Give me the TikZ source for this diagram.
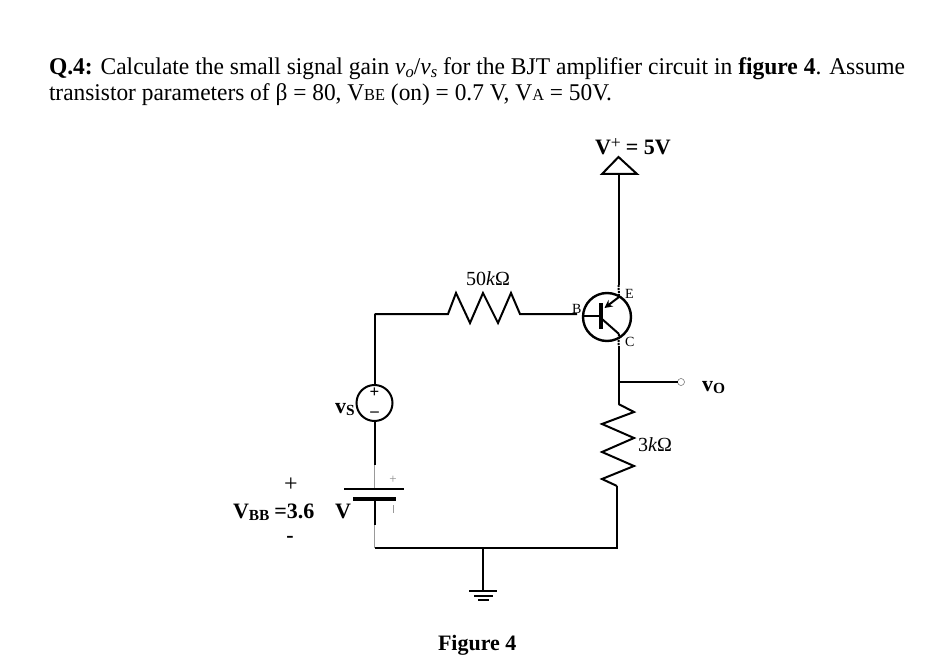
\documentclass[tikz,border=0pt]{standalone}
\usepackage{fontspec}
\usepackage{graphicx}
\setmainfont{Liberation Serif}
\usetikzlibrary{arrows.meta}
\newcommand{\lowtxt}[2][-0.12em]{\raisebox{#1}{\scalebox{0.7}{#2}}}
\newcommand{\fitw}[2]{\resizebox{#1}{\height}{#2}}
\tikzset{
  x=1pt,y=-1pt,
  wire/.style={line width=2pt,black,line cap=butt,line join=miter},
  thinwire/.style={line width=0.8pt,black!40},
  heavy/.style={line width=3.6pt,black},
  prose/.style={anchor=base west,inner sep=0pt,outer sep=0pt,font=\fontsize{24}{26}\selectfont},
  lab/.style={anchor=base west,inner sep=0pt,outer sep=0pt,font=\fontsize{20}{22}\selectfont},
  blab/.style={anchor=base west,inner sep=0pt,outer sep=0pt,font=\fontsize{22}{24}\selectfont\bfseries},
  tiny/.style={anchor=base west,inner sep=0pt,outer sep=0pt,font=\fontsize{14}{15}\selectfont},
  ring/.style={circle,draw=black,fill=white,inner sep=0pt,outer sep=0pt},
}
\begin{document}
\begin{tikzpicture}
\useasboundingbox (0,0) rectangle (951,658);
% question text
\node[prose] (q1) at (49,75) {\fitw{856pt}{\textbf{Q.4:} Calculate the small signal gain \textit{v}\lowtxt{\textit{o}}/\textit{v}\lowtxt{\textit{s}} for the BJT amplifier circuit in \textbf{figure 4}. Assume}};
\node[prose] (q2) at (49,101) {\fitw{563pt}{transistor parameters of β = 80, V\lowtxt[0em]{BE} (on) = 0.7 V, V\lowtxt[0em]{A} = 50V.}};
% named points
\coordinate (top) at (618.5,174);
\coordinate (apex) at (618.5,157);
\coordinate (trL) at (602,174);
\coordinate (trR) at (637,174);
\coordinate (eTop) at (618.5,285);
\coordinate (eIn) at (619,297);
\coordinate (cOut) at (619,334);
\coordinate (cBot) at (618.5,346);
\coordinate (tapO) at (618.5,382);
\coordinate (r2a) at (618.5,404);
\coordinate (r2b) at (617,486);
\coordinate (brR) at (617,548);
\coordinate (gndT) at (483,548);
\coordinate (gndB) at (483,591);
\coordinate (brL) at (374.5,548);
\coordinate (corner) at (374.5,314);
\coordinate (r1a) at (448,314);
\coordinate (r1b) at (520,314);
\coordinate (bW) at (577,314);
\coordinate (bIn) at (583,316);
\coordinate (bBar) at (601,316);
\coordinate (p1) at (374.5,489);
\coordinate (p2) at (374.5,499);
\coordinate (vEnd) at (374.5,465);
\coordinate (bEnd) at (374.5,525);
\coordinate (arrowTip) at (604.5,308);
\coordinate (cBar) at (602,319);
% transistor
\node[ring,line width=2.4pt,minimum size=48pt] (q) at (607,317) {};
\draw[heavy] (601,303) -- (601,329);
\draw[wire] (bIn) -- (bBar);
\draw[wire,-{Stealth[length=8pt,width=8pt]}] (eIn) -- (arrowTip);
\draw[wire] (cBar) -- (cOut);
\draw[wire,densely dotted] (eTop) -- (eIn);
\draw[wire,densely dotted] (cOut) -- (cBot);
\node[tiny] (lB) at (572,313) {B};
\node[tiny] (lE) at (625,298) {E};
\node[tiny] (lC) at (625,346) {C};
% supply
\draw[wire] (apex) -- (trR) -- (trL) -- cycle;
\draw[wire] (top) -- (eTop);
\node[blab] (lV) at (595,155) {V\raisebox{0.3em}{\scalebox{0.8}{\normalfont +}}\hspace{5pt}= 5V};
% collector, output, R2
\draw[wire] (cBot) -- (tapO);
\draw[wire] (tapO) -- (r2a);
\node[ring,line width=0.5pt,draw=black!60,minimum size=7pt] (vo) at (681,382) {};
\draw[wire] (tapO) -- (vo);
\node[blab] (lvo) at (702,391) {v\lowtxt[-0.1em]{O}};
\draw[wire] (r2a) -- (634,412) -- (602,424) -- (634,438) -- (602,452) -- (634,466) -- (602,479) -- (r2b);
\draw[wire] (r2b) -- (brR) -- (brL);
\node[lab] (lr2) at (638,451) {3\textit{k}Ω};
% ground
\draw[wire] (gndT) -- (gndB);
\draw[wire] (469,591) -- (497,591);
\draw[wire] (474,596) -- (493,596);
\draw[wire] (478,600) -- (489,600);
% R1
\draw[wire] (bW) -- (r1b) -- (511,293) -- (498,323) -- (483,293) -- (470,323) -- (456,293) -- (r1a) -- (corner);
\draw[wire] (corner) -- (374.5,385);
\node[lab] (lr1) at (466,285) {50\textit{k}Ω};
% vs
\node[ring,line width=2pt,minimum size=36pt] (vs) at (374.5,403) {};
\node[inner sep=0pt,font=\fontsize{17}{17}\selectfont\bfseries] (vsp) at (374.5,393) {+};
\node[inner sep=0pt,font=\fontsize{17}{17}\selectfont\bfseries] (vsm) at (374.5,414.5) {–};
\node[blab] (lvs) at (335,413) {v\lowtxt[-0.1em]{S}};
\draw[wire] (vs) -- (vEnd);
% battery
\draw[thinwire] (vEnd) -- (p1);
\draw[wire] (344,489) -- (404,489);
\draw[heavy] (353,499) -- (396,499);
\draw[wire] (p2) -- (bEnd);
\draw[thinwire] (bEnd) -- (brL);
\node[inner sep=0pt,text=black!45,font=\fontsize{13}{13}\selectfont] (pp) at (393,480) {+};
\draw[thinwire] (393,505) -- (393,513);
\node[inner sep=0pt,font=\fontsize{24}{24}\selectfont] (bp) at (291,485) {+};
\node[blab] (lvbb) at (233,518) {V\lowtxt[-0.1em]{BB}\hspace{5pt}=3.6};
\node[blab] (lvv) at (335,518) {V};
\node[inner sep=0pt,font=\fontsize{22}{22}\selectfont\bfseries] (bm) at (290,539) {-};
\node[blab] (lfig) at (438,650) {Figure 4};
\end{tikzpicture}
\end{document}
